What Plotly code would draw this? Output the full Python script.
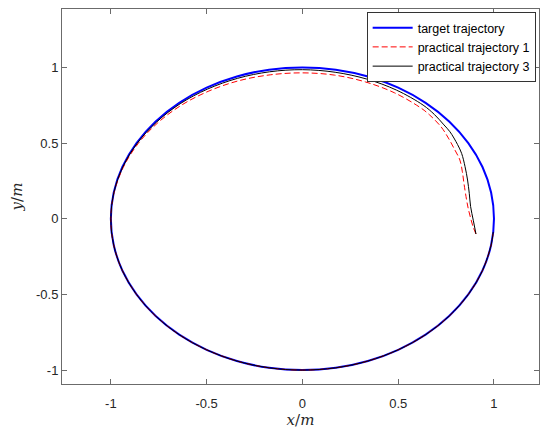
import plotly.graph_objects as go

# ---- data ----
target_x = [1.0, 0.985, 0.940, 0.866, 0.766, 0.643, 0.5, 0.342, 0.174, 0.0,
            -0.174, -0.342, -0.5, -0.643, -0.766, -0.866, -0.940, -0.985, -1.0,
            -0.985, -0.940, -0.866, -0.766, -0.643, -0.5, -0.342, -0.174, 0.0,
            0.174, 0.342, 0.5, 0.643, 0.766, 0.866, 0.940, 0.985, 1.0]
target_y = [0.0, 0.174, 0.342, 0.5, 0.643, 0.766, 0.866, 0.940, 0.985, 1.0,
            0.985, 0.940, 0.866, 0.766, 0.643, 0.5, 0.342, 0.174, 0.0,
            -0.174, -0.342, -0.5, -0.643, -0.766, -0.866, -0.940, -0.985, -1.0,
            -0.985, -0.940, -0.866, -0.766, -0.643, -0.5, -0.342, -0.174, 0.0]

traj1_x = [0.906, 0.89, 0.878, 0.866, 0.857, 0.843, 0.835, 0.822, 0.796, 0.762, 0.724, 0.663,
           0.616, 0.481, 0.329, 0.168, 0.0, -0.168, -0.332, -0.488, -0.631, -0.755, -0.858,
           -0.935, -0.983, -1.0,
           -0.985, -0.940, -0.866, -0.766, -0.643, -0.5, -0.342, -0.174, 0.0,
           0.174, 0.342, 0.5, 0.643, 0.766, 0.866, 0.940, 0.985, 0.996]
traj1_y = [-0.101, -0.05, 0.005, 0.065, 0.124, 0.236, 0.31, 0.388, 0.454, 0.533, 0.607, 0.687,
           0.734, 0.832, 0.904, 0.949, 0.964, 0.951, 0.912, 0.844, 0.751, 0.634, 0.496,
           0.340, 0.174, 0.0,
           -0.174, -0.342, -0.5, -0.643, -0.766, -0.866, -0.940, -0.985, -1.0,
           -0.985, -0.940, -0.866, -0.766, -0.643, -0.5, -0.342, -0.174, -0.087]

traj3_x = [0.906, 0.892, 0.878, 0.871, 0.862, 0.849, 0.831, 0.810, 0.770, 0.739, 0.689,
           0.630, 0.491, 0.336, 0.171, 0.0, -0.172, -0.338, -0.495, -0.638, -0.761, -0.863,
           -0.938, -0.984, -1.0,
           -0.985, -0.940, -0.866, -0.766, -0.643, -0.5, -0.342, -0.174, 0.0,
           0.174, 0.342, 0.5, 0.643, 0.766, 0.866, 0.940, 0.985, 0.996]
traj3_y = [-0.101, -0.010, 0.080, 0.168, 0.256, 0.344, 0.432, 0.490, 0.575, 0.620, 0.689,
           0.751, 0.850, 0.923, 0.968, 0.985, 0.971, 0.928, 0.857, 0.760, 0.639, 0.498,
           0.341, 0.174, 0.0,
           -0.174, -0.342, -0.5, -0.643, -0.766, -0.866, -0.940, -0.985, -1.0,
           -0.985, -0.940, -0.866, -0.766, -0.643, -0.5, -0.342, -0.174, -0.087]

x_ticks = [-1, -0.5, 0, 0.5, 1]
x_tick_labels = ["-1", "-0.5", "0", "0.5", "1"]
y_ticks = [-1, -0.5, 0, 0.5, 1]
y_tick_labels = ["-1", "-0.5", "0", "0.5", "1"]

names = ["target trajectory", "practical trajectory 1", "practical trajectory 3"]

fig = go.Figure()
fig.add_trace(go.Scatter(x=target_x, y=target_y, mode="lines", name=names[0],
                         line=dict(color="#0000ff", width=2, shape="spline", smoothing=1.0)))
fig.add_trace(go.Scatter(x=traj1_x, y=traj1_y, mode="lines", name=names[1],
                         line=dict(color="#ff0000", width=1, dash="6px,3px", shape="spline", smoothing=1.0)))
fig.add_trace(go.Scatter(x=traj3_x, y=traj3_y, mode="lines", name=names[2],
                         line=dict(color="#000000", width=1, shape="spline", smoothing=1.0)))

axis_common = dict(showgrid=False, zeroline=False, showline=True, linecolor="#6b6b6b",
                   linewidth=1, mirror="allticks", ticks="inside", ticklen=5,
                   tickcolor="#6b6b6b", automargin=False,
                   tickfont=dict(family="Liberation Sans, Arial", size=13, color="#262626"))

fig.update_layout(
    width=534, height=426,
    margin=dict(l=54, r=3, t=1, b=50),
    paper_bgcolor="white", plot_bgcolor="white",
    xaxis=dict(range=[-1.255, 1.235], tickvals=x_ticks, ticktext=x_tick_labels,
               ticklabelstandoff=7,
               title=dict(text="<i>x</i>/<i>m</i>", font=dict(family="DejaVu Serif", size=15, color="#262626"), standoff=4),
               **axis_common),
    yaxis=dict(range=[-1.092, 1.386], tickvals=y_ticks, ticktext=y_tick_labels,
               title=dict(text="<i>y</i>/<i>m</i>", font=dict(family="DejaVu Serif", size=15, color="#262626"), standoff=14),
               **axis_common),
    legend=dict(x=0.993, y=0.992, xanchor="right", yanchor="top",
                bgcolor="white", bordercolor="#333333", borderwidth=1,
                font=dict(family="Liberation Sans, Arial", size=12.5, color="#000000"),
                tracegroupgap=0, itemwidth=40),
    showlegend=True,
)

fig.write_html("out.html")
